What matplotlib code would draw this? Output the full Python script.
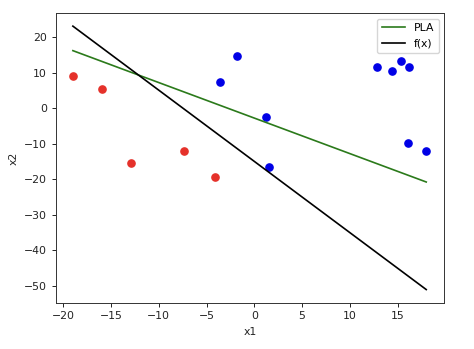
import numpy as np
import matplotlib
matplotlib.use("Agg")
import matplotlib.pyplot as plt

# class -1 points (red)
red_x1 = [-19.0, -16.0, -12.9, -7.4, -4.1]
red_x2 = [9.0, 5.3, -15.4, -12.1, -19.3]
# class +1 points (blue)
blue_x1 = [-3.6, -1.8, 1.2, 1.5, 12.8, 14.4, 15.4, 16.2, 16.1, 18.0]
blue_x2 = [7.3, 14.6, -2.6, -16.7, 11.7, 10.4, 13.2, 11.7, -9.7, -12.1]

# lines, drawn between their end points
line_x = [-19.0, 18.0]
pla_y = [16.2, -20.8]
fx_y = [23.1, -51.1]

fig = plt.figure(figsize=(4.74, 3.49), dpi=100)
ax = fig.add_axes([0.1175, 0.1327, 0.82, 0.829])

ax.plot(red_x1, red_x2, "o", color="#e5312a", markersize=5.2)
ax.plot(blue_x1, blue_x2, "o", color="#0000e6", markersize=5.2)
ax.plot(line_x, pla_y, color="#2b7a1b", lw=1.2, label="PLA")
ax.plot(line_x, fx_y, color="black", lw=1.2, label="f(x)")

ax.set_xlim(-20.8, 19.9)
ax.set_ylim(-54.8, 26.7)
ax.set_xticks([-20, -15, -10, -5, 0, 5, 10, 15])
ax.set_yticks([20, 10, 0, -10, -20, -30, -40, -50])
ax.tick_params(labelsize=7.8, width=0.7, length=2.8, colors="#222222")
for s in ax.spines.values():
    s.set_linewidth(0.7)
    s.set_color("#333333")
ax.set_xlabel("x1", fontsize=7.8, color="#222222")
ax.set_ylabel("x2", fontsize=7.8, color="#222222")
ax.legend(fontsize=7.8, loc="upper right", handlelength=2.2)

fig.savefig("out.png", dpi=100)
